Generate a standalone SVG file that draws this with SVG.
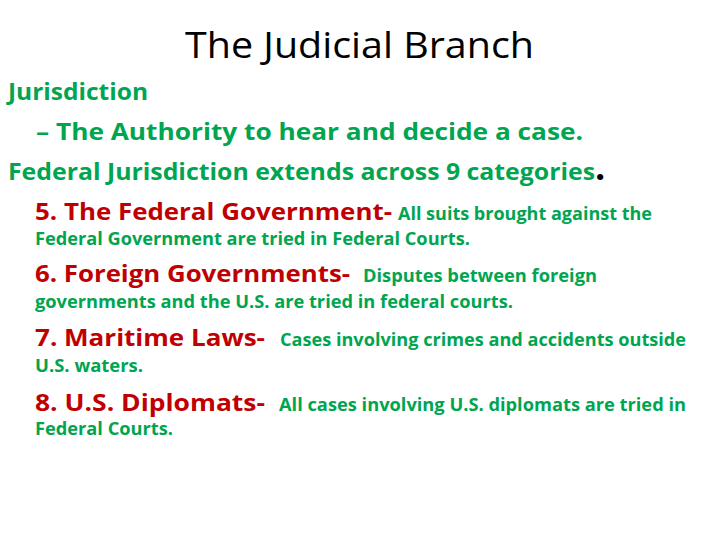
<svg xmlns="http://www.w3.org/2000/svg" width="720" height="540" viewBox="0 0 720 540">
<style>
text{font-family:"Open Sans","Liberation Sans",sans-serif;}
.t{fill:#000;font-size:36px}
.g{fill:#00a550;font-size:24px;font-weight:bold}
.r{fill:#c00000;font-size:23px;font-weight:bold}
.s{fill:#00a550;font-size:17px;font-weight:bold}
</style>
<rect width="720" height="540" fill="#fff"/>
<text class="t" x="185" y="58" textLength="349" lengthAdjust="spacingAndGlyphs">The Judicial Branch</text>
<text class="g" x="8" y="100" textLength="140" lengthAdjust="spacingAndGlyphs">Jurisdiction</text>
<text class="g" x="36" y="140" textLength="547" lengthAdjust="spacingAndGlyphs">– The Authority to hear and decide a case.</text>
<text class="g" x="8" y="180" textLength="587" lengthAdjust="spacingAndGlyphs">Federal Jurisdiction extends across 9 categories</text>
<text class="t" x="595" y="180" font-size="25" font-weight="bold">.</text>
<text class="r" x="35" y="220" textLength="357" lengthAdjust="spacingAndGlyphs">5.  The Federal Government-</text>
<text class="s" x="398" y="220" textLength="254" lengthAdjust="spacingAndGlyphs">All suits brought against the</text>
<text class="s" x="35" y="245" textLength="435" lengthAdjust="spacingAndGlyphs">Federal Government are tried in Federal Courts.</text>
<text class="r" x="35" y="282" font-size="25" textLength="315" lengthAdjust="spacingAndGlyphs">6.  Foreign Governments-</text>
<text class="s" x="363" y="282" font-size="18" textLength="234" lengthAdjust="spacingAndGlyphs">Disputes between foreign</text>
<text class="s" x="35" y="308" textLength="478" lengthAdjust="spacingAndGlyphs">governments and the U.S. are tried in federal courts.</text>
<text class="r" x="35" y="346" font-size="25" textLength="230" lengthAdjust="spacingAndGlyphs">7.  Maritime Laws-</text>
<text class="s" x="280" y="346" font-size="18" textLength="406" lengthAdjust="spacingAndGlyphs">Cases involving crimes and accidents outside</text>
<text class="s" x="35" y="372" textLength="108" lengthAdjust="spacingAndGlyphs">U.S. waters.</text>
<text class="r" x="35" y="411" font-size="25" textLength="230" lengthAdjust="spacingAndGlyphs">8.  U.S. Diplomats-</text>
<text class="s" x="279" y="411" font-size="18" textLength="407" lengthAdjust="spacingAndGlyphs">All cases involving U.S. diplomats are tried in</text>
<text class="s" x="35" y="435" textLength="138" lengthAdjust="spacingAndGlyphs">Federal Courts.</text>
</svg>
